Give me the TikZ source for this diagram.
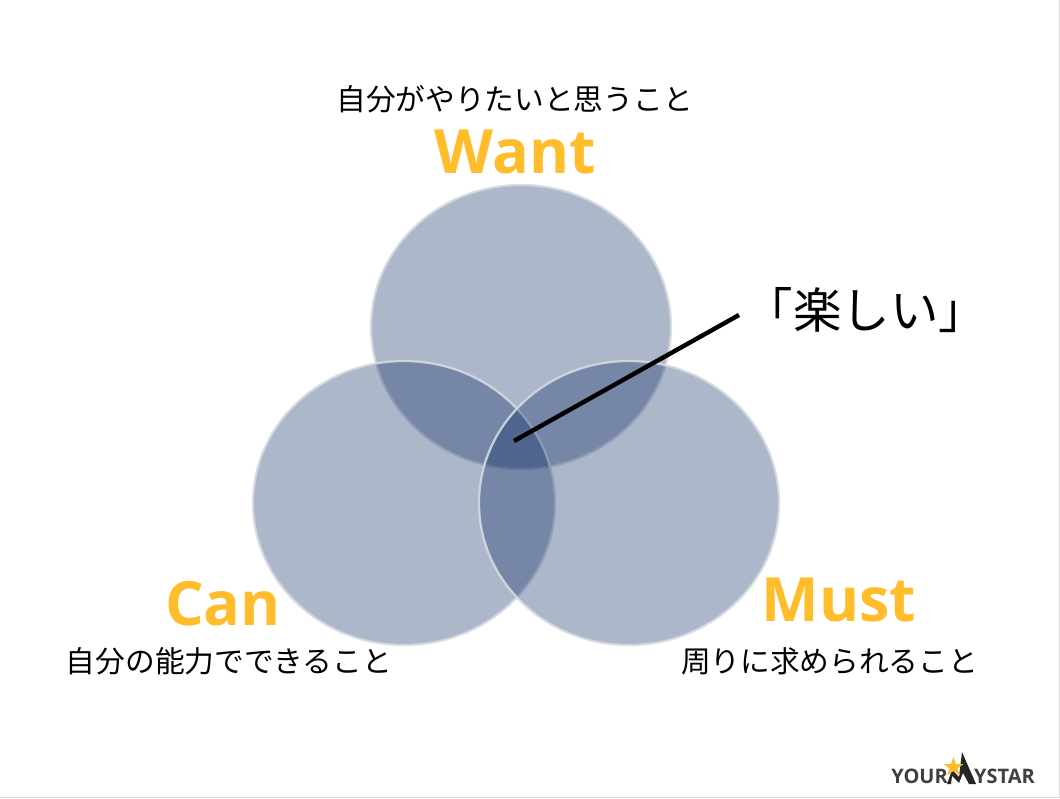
\documentclass[tikz,border=0pt]{standalone}
\usepackage{fontspec}
\setmainfont{Noto Sans CJK JP}
\newfontfamily\latinbold{Open Sans}
\newfontfamily\logofont{Open Sans}
\definecolor{vennfill}{RGB}{0,33,92}
\definecolor{vennedge}{RGB}{214,218,224}
\definecolor{accent}{RGB}{255,189,44}
\definecolor{logogrey}{RGB}{64,64,64}
\tikzset{
  px/.style={x=1pt,y=-1pt},
  venn/.style={fill=vennfill,fill opacity=0.32,draw=vennedge,draw opacity=0.9,line width=2.2pt},
  jp/.style={font=\fontsize{29.7}{32}\selectfont,inner sep=0pt,text=black},
  big/.style={font=\latinbold\bfseries\fontsize{61}{64}\selectfont,inner sep=0pt,text=accent},
  logo/.style={font=\logofont\bfseries\fontsize{20}{22}\selectfont,inner sep=0pt,text=logogrey}
}
\begin{document}
\begin{tikzpicture}[px]
\useasboundingbox (0,0) rectangle (1060,798);
\fill[white] (0,0) rectangle (1060,798);
\fill[black!15] (0,796.5) rectangle (1060,798);
\fill[black!15] (1058.5,0) rectangle (1060,798);
\coordinate (ct) at (521,327);
\coordinate (cl) at (404,503);
\coordinate (cr) at (629,503);
\draw[venn] (ct) ellipse [x radius=150,y radius=142];
\draw[venn] (cl) ellipse [x radius=151,y radius=142];
\draw[venn] (cr) ellipse [x radius=150,y radius=142];
\node[jp] (twant) at (514.5,99) {自分がやりたいと思うこと};
\node[big] (want) at (515,152) {Want};
\node[big] (can) at (223,604) {Can};
\node[big] (must) at (839,600) {Must};
\node[jp] (tcan) at (229,661) {自分の能力でできること};
\node[jp] (tmust) at (829.5,661) {周りに求められること};
\node[inner sep=0pt,font=\fontsize{48.5}{52}\selectfont] (fun) at (866,310) {「楽しい」};
\coordinate (a) at (514,441);
\coordinate (b) at (739,315);
\draw[line width=4.4pt,black] (a) -- (b);
% logo
\node[logo,anchor=east] (your) at (948,776) {YOUR};
\node[logo,anchor=west] (ystar) at (974,776) {YSTAR};
\fill[black!85] (947,784) -- (952,770) -- (959,777) -- (962,752) -- (976,784) -- (969,784) -- (963,773) -- (959,783) -- (952,776) -- (951,784) -- cycle;
\fill[accent] (953.5,757)--(956,764)--(963.5,764)--(957.5,768.5)--(960,775.5)--(953.5,771)--(947,775.5)--(949.5,768.5)--(943.5,764)--(951,764)--cycle;
\end{tikzpicture}
\end{document}
